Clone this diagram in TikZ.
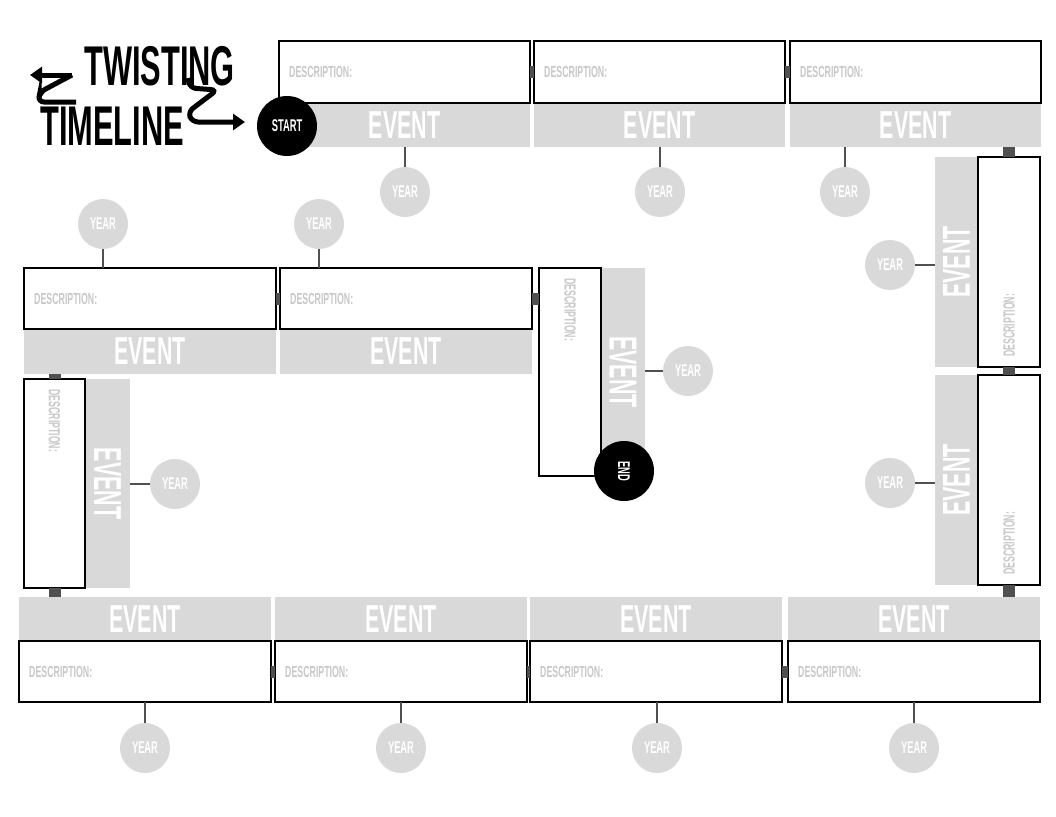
\documentclass[tikz,border=0pt]{standalone}
\usepackage{fontspec}
\newfontfamily\cond{Liberation Sans}[FakeStretch=0.55,BoldFont=* Bold]
\usetikzlibrary{arrows.meta,calc}
\definecolor{evgrey}{HTML}{D9D9D9}
\definecolor{txgrey}{HTML}{C8C8C8}
\definecolor{lnkgrey}{HTML}{505050}
\tikzset{
  desc/.style={draw,line width=1.5pt,fill=white,inner sep=0pt,outer sep=0pt,anchor=north west},
  bar/.style={fill=evgrey,inner sep=0pt,outer sep=0pt,anchor=north west,text=white,font=\cond\bfseries\fontsize{39}{39}\selectfont},
  dtext/.style={text=txgrey,font=\cond\bfseries\fontsize{16}{16}\selectfont,inner sep=0pt},
  year/.style={circle,fill=evgrey,minimum size=50pt,inner sep=0pt,text=white,font=\cond\bfseries\fontsize{17}{17}\selectfont},
  stem/.style={draw=lnkgrey,line width=2.5pt},
  link/.style={draw=lnkgrey,line width=12pt},
  endpt/.style={circle,fill=black,minimum size=60pt,inner sep=0pt,text=white,font=\cond\bfseries\fontsize{17}{17}\selectfont},
}
\begin{document}
\begin{tikzpicture}[x=1pt,y=-1pt]
\useasboundingbox (0,0) rectangle (1056,816);
% title
\node[anchor=south west,inner sep=0pt,font=\cond\bfseries\fontsize{56}{56}\selectfont] (tw) at (84,86) {TWISTING};
\node[anchor=south west,inner sep=0pt,font=\cond\bfseries\fontsize{56}{56}\selectfont] (tl) at (40,146) {TIMELINE};
\draw[line width=5pt,-{Triangle[length=12pt,width=16pt]}] (72,75) to[out=180,in=0] (30,75);
\draw[line width=5pt,rounded corners=6pt] (72,75) -- (40,92) -- (38,102) -- (76,102);
\draw[line width=5pt,rounded corners=6pt,-{Triangle[length=12pt,width=16pt]}] (188,78) -- (190,88) -- (217,90) -- (188,112) -- (192,122) -- (245,122);
% top row
\foreach \n/\x/\yr in {1/279/405,2/534/660,3/790/845}{
  \node[bar,minimum width=251pt,minimum height=44pt] (te\n) at (\x,103) {EVENT};
  \node[desc,minimum width=251pt,minimum height=62pt] (td\n) at (\x,41) {};
  \node[dtext,anchor=west] at ($(td\n.west)+(10,0)$) {DESCRIPTION:};
  \node[year] (ty\n) at (\yr,192) {YEAR};
  \draw[stem] (ty\n) -- (ty\n |- te\n.south);
}
\draw[link] (td1.east) -- (td2.west);
\draw[link] (td2.east) -- (td3.west);
\node[endpt] (start) at (287,126) {START};
% right column
\foreach \n/\y in {1/157,2/375}{
  \node[bar,minimum width=43pt,minimum height=210pt] (re\n) at (935,\y) {};
  \node[text=white,rotate=90,font=\cond\bfseries\fontsize{39}{39}\selectfont] at (re\n.center) {EVENT};
  \node[desc,minimum width=62pt,minimum height=210pt] (rd\n) at (978,\y) {};
  \node[dtext,anchor=west,rotate=90] at ($(rd\n.south)+(0,-10)$) {DESCRIPTION:};
  \node[year] (ry\n) at (890,\y+108) {YEAR};
  \draw[stem] (ry\n) -- (ry\n -| re\n.west);
}
\draw[link] (rd1.north) -- (rd1.north |- te3.south);
\draw[link] (rd1.south) -- (rd2.north);
% bottom row
\foreach \n/\x/\yr in {1/19/145,2/275/401,3/530/657,4/788/914}{
  \node[bar,minimum width=252pt,minimum height=44pt] (be\n) at (\x,597) {EVENT};
  \node[desc,minimum width=252pt,minimum height=61pt] (bd\n) at (\x,641) {};
  \node[dtext,anchor=west] at ($(bd\n.west)+(10,0)$) {DESCRIPTION:};
  \node[year] (by\n) at (\yr,748) {YEAR};
  \draw[stem] (by\n) -- (by\n |- bd\n.south);
}
\draw[link] (rd2.south) -- (rd2.south |- be4.north);
\draw[link] (bd1.east) -- (bd2.west);
\draw[link] (bd2.east) -- (bd3.west);
\draw[link] (bd3.east) -- (bd4.west);
% left column
\node[bar,minimum width=45pt,minimum height=209pt] (le) at (85,379) {};
\node[text=white,rotate=-90,font=\cond\bfseries\fontsize{39}{39}\selectfont] at (le.center) {EVENT};
\node[desc,minimum width=61pt,minimum height=209pt] (ld) at (24,379) {};
\node[dtext,anchor=west,rotate=-90] at ($(ld.north)+(0,10)$) {DESCRIPTION:};
\node[year] (ly) at (175,484) {YEAR};
\draw[stem] (ly) -- (ly -| le.east);
\draw[link] (ld.south) -- (ld.south |- be1.north);
% middle row
\foreach \n/\x/\yr in {1/24/103,2/280/319}{
  \node[bar,minimum width=252pt,minimum height=45pt] (me\n) at (\x,329) {EVENT};
  \node[desc,minimum width=252pt,minimum height=61pt] (md\n) at (\x,268) {};
  \node[dtext,anchor=west] at ($(md\n.west)+(10,0)$) {DESCRIPTION:};
  \node[year] (my\n) at (\yr,224) {YEAR};
  \draw[stem] (my\n) -- (my\n |- md\n.north);
}
\draw[link] (ld.north) -- (ld.north |- me1.south);
\draw[link] (md1.east) -- (md2.west);
% centre column
\node[bar,minimum width=44pt,minimum height=208pt] (ce) at (601,268) {};
\node[text=white,rotate=-90,font=\cond\bfseries\fontsize{39}{39}\selectfont] at (ce.center) {EVENT};
\node[desc,minimum width=62pt,minimum height=208pt] (cd) at (539,268) {};
\node[dtext,anchor=west,rotate=-90] at ($(cd.north)+(0,10)$) {DESCRIPTION:};
\node[year] (cy) at (688,371) {YEAR};
\draw[stem] (cy) -- (cy -| ce.east);
\draw[link] (md2.east) -- (md2.east -| cd.west);
\node[endpt,rotate=-90] (end) at (624,471) {END};
\end{tikzpicture}
\end{document}
